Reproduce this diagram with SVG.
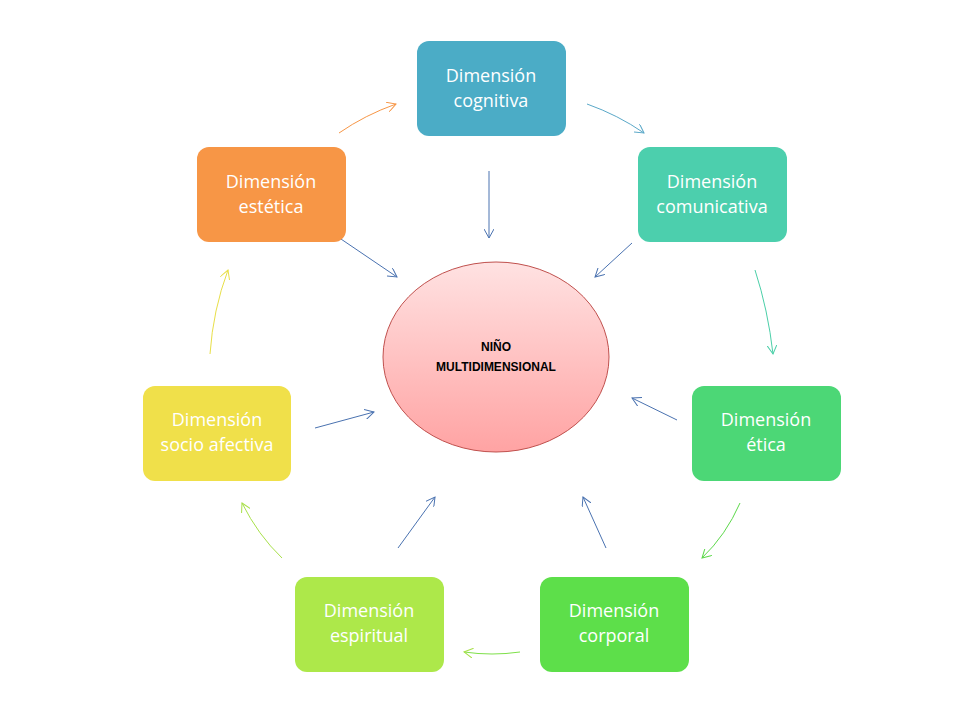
<svg xmlns="http://www.w3.org/2000/svg" width="960" height="720" viewBox="0 0 960 720">
<style>
.box text{font-family:"Open Sans","Liberation Sans",sans-serif;font-size:18px;fill:#fff;text-anchor:middle}
.c{fill:none;stroke-width:1}
</style>
<defs>
<linearGradient id="eg" x1="0" y1="0" x2="0" y2="1"><stop offset="0" stop-color="#ffe2e2"/><stop offset="1" stop-color="#ffa3a3"/></linearGradient>
<marker id="mb" viewBox="0 0 10 10" refX="9" refY="5" markerWidth="10" markerHeight="10" orient="auto" markerUnits="userSpaceOnUse"><path d="M0,0L9,5L0,10" fill="none" stroke="#4a72b0"/></marker>
<marker id="mo" viewBox="0 0 10 10" refX="9" refY="5" markerWidth="10" markerHeight="10" orient="auto" markerUnits="userSpaceOnUse"><path d="M0,0L9,5L0,10" fill="none" stroke="#f79646"/></marker>
<marker id="mc" viewBox="0 0 10 10" refX="9" refY="5" markerWidth="10" markerHeight="10" orient="auto" markerUnits="userSpaceOnUse"><path d="M0,0L9,5L0,10" fill="none" stroke="#5aa8c8"/></marker>
<marker id="mt" viewBox="0 0 10 10" refX="9" refY="5" markerWidth="10" markerHeight="10" orient="auto" markerUnits="userSpaceOnUse"><path d="M0,0L9,5L0,10" fill="none" stroke="#4bcfa8"/></marker>
<marker id="mg" viewBox="0 0 10 10" refX="9" refY="5" markerWidth="10" markerHeight="10" orient="auto" markerUnits="userSpaceOnUse"><path d="M0,0L9,5L0,10" fill="none" stroke="#5cd84a"/></marker>
<marker id="ml" viewBox="0 0 10 10" refX="9" refY="5" markerWidth="10" markerHeight="10" orient="auto" markerUnits="userSpaceOnUse"><path d="M0,0L9,5L0,10" fill="none" stroke="#a8e04a"/></marker>
<marker id="my" viewBox="0 0 10 10" refX="9" refY="5" markerWidth="10" markerHeight="10" orient="auto" markerUnits="userSpaceOnUse"><path d="M0,0L9,5L0,10" fill="none" stroke="#e8df48"/></marker>
</defs>
<rect width="960" height="720" fill="#fff"/>
<g id="connectors">
<path class="c" stroke="#f79646" marker-end="url(#mo)" d="M339,133 Q365,115 396,104"/>
<path class="c" stroke="#5aa8c8" marker-end="url(#mc)" d="M587,104 Q618,115 644,133"/>
<path class="c" stroke="#4bcfa8" marker-end="url(#mt)" d="M755,270 Q768,310 773,354"/>
<path class="c" stroke="#5cd84a" marker-end="url(#mg)" d="M740,503 Q726,535 702,558"/>
<path class="c" stroke="#7ee04a" marker-end="url(#ml)" d="M520,652 Q492,656 464,652"/>
<path class="c" stroke="#a8e04a" marker-end="url(#ml)" d="M282,558 Q258,535 242,503"/>
<path class="c" stroke="#e8df48" marker-end="url(#my)" d="M210,354 Q213,310 228,270"/>
<g stroke="#4a72b0" class="c" marker-end="url(#mb)">
<path class="c" d="M489,171L489,238"/>
<path class="c" d="M338,237L397,277"/>
<path class="c" d="M632,243L595,277"/>
<path class="c" d="M677,420L632,398"/>
<path class="c" d="M315,428L374,412"/>
<path class="c" d="M398,548L435,497"/>
<path class="c" d="M606,548L583,497"/>
</g>
</g>
<g id="center">
<ellipse cx="496" cy="357" rx="113" ry="95" fill="url(#eg)" stroke="#c0504d" stroke-width="1"/>
<text font-family="'Liberation Sans',Arial,sans-serif" font-size="12" font-weight="bold" text-anchor="middle" fill="#000"><tspan x="496" y="351">NIÑO</tspan><tspan x="496" y="371">MULTIDIMENSIONAL</tspan></text>
</g>
<g id="cognitiva" class="box"><rect x="417" y="41" width="149" height="95" rx="12" fill="#4bacc6"/><text><tspan x="491" y="82">Dimensión</tspan><tspan x="491" y="107">cognitiva</tspan></text></g>
<g id="comunicativa" class="box"><rect x="638" y="147" width="149" height="95" rx="12" fill="#4ccfad"/><text><tspan x="712" y="188">Dimensión</tspan><tspan x="712" y="213">comunicativa</tspan></text></g>
<g id="etica" class="box"><rect x="692" y="386" width="149" height="95" rx="12" fill="#4cd776"/><text><tspan x="766" y="426">Dimensión</tspan><tspan x="766" y="451">ética</tspan></text></g>
<g id="corporal" class="box"><rect x="540" y="577" width="149" height="95" rx="12" fill="#5ddf4a"/><text><tspan x="614" y="617">Dimensión</tspan><tspan x="614" y="642">corporal</tspan></text></g>
<g id="espiritual" class="box"><rect x="295" y="577" width="149" height="95" rx="12" fill="#ade84a"/><text><tspan x="369" y="617">Dimensión</tspan><tspan x="369" y="642">espiritual</tspan></text></g>
<g id="socio" class="box"><rect x="143" y="386" width="148" height="95" rx="12" fill="#f0e04a"/><text><tspan x="217" y="426">Dimensión</tspan><tspan x="217" y="451">socio afectiva</tspan></text></g>
<g id="estetica" class="box"><rect x="197" y="147" width="149" height="95" rx="12" fill="#f79646"/><text><tspan x="271" y="188">Dimensión</tspan><tspan x="271" y="213">estética</tspan></text></g>
</svg>
